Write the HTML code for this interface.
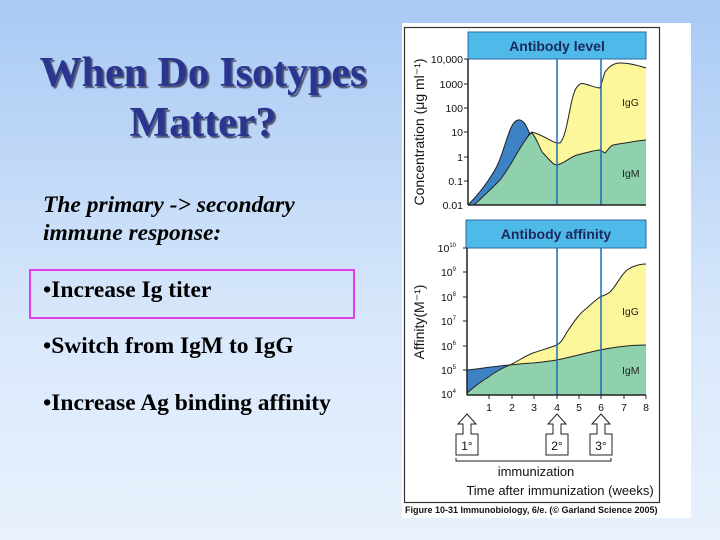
<!DOCTYPE html>
<html><head><meta charset="utf-8"><style>
html,body{margin:0;padding:0}
body{width:720px;height:540px;overflow:hidden;background:linear-gradient(180deg,#a9c9f4 0%,#d8e8fb 60%,#e9f1fd 100%);position:relative;font-family:"Liberation Serif",serif}
.t{position:absolute;font-weight:bold;color:#2a3590;font-size:42px;text-shadow:2px 2px 1px #4f5570;width:400px;text-align:center;left:3px;transform:scaleX(1.0);line-height:1}
.b{position:absolute;left:43px;font-weight:bold;font-size:23.5px;color:#000;white-space:nowrap;line-height:1}
</style></head><body>
<div class="t" style="top:52px">When Do Isotypes</div>
<div class="t" style="top:102px">Matter?</div>
<div class="b" style="top:194px;font-style:italic">The primary -&gt; secondary</div>
<div class="b" style="top:222px;font-style:italic">immune response:</div>
<div style="position:absolute;left:29px;top:269px;width:322px;height:46px;border:2px solid #e23ee6"></div>
<div class="b" style="top:279px">•Increase Ig titer</div>
<div class="b" style="top:335px">•Switch from IgM to IgG</div>
<div class="b" style="top:392px">•Increase Ag binding affinity</div>
<svg style="position:absolute;left:0;top:0" width="720" height="540" font-family="Liberation Sans, sans-serif">
<rect x="402" y="23" width="289" height="495" fill="#fff"/>
<rect x="404.5" y="27.5" width="255" height="475" fill="none" stroke="#333" stroke-width="1.2"/>
<rect x="468" y="32" width="178" height="27" fill="#4fb9ea" stroke="#2a6aa0"/>
<text x="557" y="51" font-size="14" font-weight="bold" text-anchor="middle" fill="#1a2a5a">Antibody level</text>
<path d="M474,205 C485,195 492,188 500,180 C512,165 520,145 530,134 L532,133 C538,140 540,150 543,153 C550,160 553,165 557,165 C565,163 570,157 577,155 C590,152 595,150 600,150 L605,153 C608,150 610,146 613,145 C625,143 635,141 646,140 L646,205 Z" fill="#8fd0ad"/>
<path d="M528,135 L532,132 C545,136 552,142 557,143 L560,143 C568,135 570,95 577,87 C580,83 582,83 585,84 C592,86 597,88 600,88 L605,72 C610,65 615,63 620,63 C630,63 640,66 646,68 L646,140 C635,141 625,143 613,145 C610,146 608,150 605,153 L600,150 C595,150 590,152 577,155 C570,157 565,163 557,165 C553,165 550,160 543,153 C540,150 538,140 532,133 Z" fill="#fbf79a"/>
<path d="M468,205 C478,195 487,183 493,173 C505,155 508,122 518,120 C524,119 527,128 530,134 C520,145 512,165 500,180 C492,188 485,195 474,205 Z" fill="#3e82c6"/>
<path d="M468,205 C478,195 487,183 493,173 C505,155 508,122 518,120 C524,119 527,128 530,134" fill="none" stroke="#222" stroke-width="1"/>
<path d="M474,205 C485,195 492,188 500,180 C512,165 520,145 530,134 L532,133 C538,140 540,150 543,153 C550,160 553,165 557,165 C565,163 570,157 577,155 C590,152 595,150 600,150 L605,153 C608,150 610,146 613,145 C625,143 635,141 646,140" fill="none" stroke="#222" stroke-width="1"/>
<path d="M528,135 L532,132 C545,136 552,142 557,143 L560,143 C568,135 570,95 577,87 C580,83 582,83 585,84 C592,86 597,88 600,88 L605,72 C610,65 615,63 620,63 C630,63 640,66 646,68" fill="none" stroke="#222" stroke-width="1"/>
<line x1="557" y1="59" x2="557" y2="205" stroke="#1a6fb5" stroke-width="1.5"/>
<line x1="601" y1="59" x2="601" y2="205" stroke="#1a6fb5" stroke-width="1.5"/>
<line x1="468" y1="59" x2="468" y2="205" stroke="#222" stroke-width="1.5"/>
<line x1="468" y1="205" x2="646" y2="205" stroke="#222" stroke-width="1.5"/>
<g font-size="10.5" text-anchor="end" fill="#111">
<text x="463" y="63">10,000</text><text x="463" y="88">1000</text><text x="463" y="112">100</text><text x="463" y="136">10</text><text x="463" y="161">1</text><text x="463" y="185">0.1</text><text x="463" y="209">0.01</text></g>
<g stroke="#222"><line x1="464" y1="59" x2="468" y2="59"/><line x1="464" y1="84" x2="468" y2="84"/><line x1="464" y1="108" x2="468" y2="108"/><line x1="464" y1="132" x2="468" y2="132"/><line x1="464" y1="157" x2="468" y2="157"/><line x1="464" y1="181" x2="468" y2="181"/></g>
<text x="622" y="106" font-size="10.5" fill="#222">IgG</text>
<text x="622" y="177" font-size="10.5" fill="#222">IgM</text>
<text transform="translate(424,132) rotate(-90)" font-size="14" text-anchor="middle" fill="#111">Concentration (μg ml⁻¹)</text>
<rect x="466" y="220" width="180" height="28" fill="#4fb9ea" stroke="#2a6aa0"/>
<text x="556" y="239" font-size="14" font-weight="bold" text-anchor="middle" fill="#1a2a5a">Antibody affinity</text>
<path d="M467,393 C475,386 480,382 487,378 C495,372 502,368 510,365 C520,364 528,363 533,363 C545,362 550,361 557,360 C575,356 590,352 600,350 C620,346 635,345 646,345 L646,395 L467,395 Z" fill="#8fd0ad"/>
<path d="M510,365 C520,360 525,356 533,353 C545,349 552,347 557,345 C562,342 564,337 567,332 C575,320 580,313 587,308 C592,303 596,300 600,297 C605,295 608,294 610,292 C617,285 620,276 627,270 C633,266 640,264 646,264 L646,345 C635,345 620,346 600,350 C590,352 575,356 557,360 C550,361 545,362 533,363 C528,363 520,364 510,365 Z" fill="#fbf79a"/>
<path d="M467,370 C485,368 495,366 510,365 C502,368 495,372 487,378 C480,382 475,386 467,393 Z" fill="#3e82c6"/>
<g fill="none" stroke="#222" stroke-width="1">
<path d="M467,370 C485,368 495,366 510,365"/>
<path d="M467,393 C475,386 480,382 487,378 C495,372 502,368 510,365 C520,364 528,363 533,363 C545,362 550,361 557,360 C575,356 590,352 600,350 C620,346 635,345 646,345"/>
<path d="M510,365 C520,360 525,356 533,353 C545,349 552,347 557,345 C562,342 564,337 567,332 C575,320 580,313 587,308 C592,303 596,300 600,297 C605,295 608,294 610,292 C617,285 620,276 627,270 C633,266 640,264 646,264"/></g>
<line x1="557" y1="248" x2="557" y2="395" stroke="#1a6fb5" stroke-width="1.5"/>
<line x1="601" y1="248" x2="601" y2="395" stroke="#1a6fb5" stroke-width="1.5"/>
<line x1="467" y1="248" x2="467" y2="395" stroke="#222" stroke-width="1.5"/>
<line x1="467" y1="395" x2="646" y2="395" stroke="#222" stroke-width="1.5"/>
<g stroke="#222"><line x1="463" y1="248" x2="467" y2="248"/><line x1="463" y1="272" x2="467" y2="272"/><line x1="463" y1="297" x2="467" y2="297"/><line x1="463" y1="321" x2="467" y2="321"/><line x1="463" y1="346" x2="467" y2="346"/><line x1="463" y1="370" x2="467" y2="370"/>
<line x1="489" y1="395" x2="489" y2="399"/><line x1="512" y1="395" x2="512" y2="399"/><line x1="534" y1="395" x2="534" y2="399"/><line x1="557" y1="395" x2="557" y2="399"/><line x1="579" y1="395" x2="579" y2="399"/><line x1="601" y1="395" x2="601" y2="399"/><line x1="624" y1="395" x2="624" y2="399"/><line x1="646" y1="395" x2="646" y2="399"/></g>
<g font-size="10.5" fill="#111" text-anchor="end">
<text x="456" y="252">10<tspan font-size="6" dy="-5">10</tspan></text>
<text x="456" y="276">10<tspan font-size="6" dy="-5">9</tspan></text>
<text x="456" y="301">10<tspan font-size="6" dy="-5">8</tspan></text>
<text x="456" y="325">10<tspan font-size="6" dy="-5">7</tspan></text>
<text x="456" y="350">10<tspan font-size="6" dy="-5">6</tspan></text>
<text x="456" y="374">10<tspan font-size="6" dy="-5">5</tspan></text>
<text x="456" y="398">10<tspan font-size="6" dy="-5">4</tspan></text></g>
<g font-size="10.5" fill="#111" text-anchor="middle">
<text x="489" y="411">1</text><text x="512" y="411">2</text><text x="534" y="411">3</text><text x="557" y="411">4</text><text x="579" y="411">5</text><text x="601" y="411">6</text><text x="624" y="411">7</text><text x="646" y="411">8</text></g>
<text x="622" y="315" font-size="10.5" fill="#222">IgG</text>
<text x="622" y="374" font-size="10.5" fill="#222">IgM</text>
<text transform="translate(424,322) rotate(-90)" font-size="14" text-anchor="middle" fill="#111">Affinity(M⁻¹)</text>
<g fill="#fff" stroke="#222" stroke-width="1">
<path d="M467,414 L476,424 L471,424 L471,434 L478,434 L478,455 L456,455 L456,434 L463,434 L463,424 L458,424 Z"/>
<path d="M557,414 L566,424 L561,424 L561,434 L568,434 L568,455 L546,455 L546,434 L553,434 L553,424 L548,424 Z"/>
<path d="M601,414 L610,424 L605,424 L605,434 L612,434 L612,455 L590,455 L590,434 L597,434 L597,424 L592,424 Z"/>
<path d="M456,458 L456,461 L611,461 L611,458" fill="none"/></g>
<g font-size="12" fill="#111" text-anchor="middle">
<text x="467" y="450">1°</text><text x="557" y="450">2°</text><text x="601" y="450">3°</text></g>
<text x="536" y="476" font-size="13" text-anchor="middle" fill="#111">immunization</text>
<text x="560" y="495" font-size="13" text-anchor="middle" fill="#111">Time after immunization (weeks)</text>
<text x="405" y="513" font-size="9" font-weight="bold" fill="#111">Figure 10-31  Immunobiology, 6/e. (© Garland Science 2005)</text>
</svg>
</body></html>
